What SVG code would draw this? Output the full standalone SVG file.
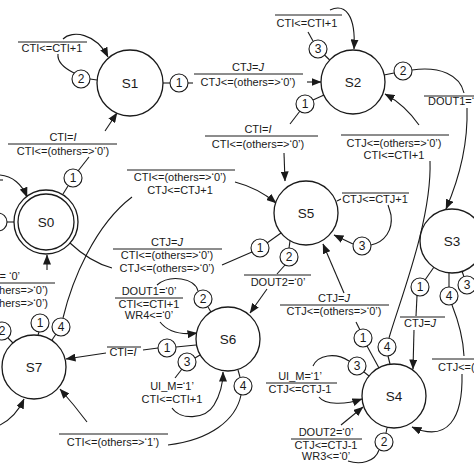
<svg xmlns="http://www.w3.org/2000/svg" width="474" height="474" viewBox="0 0 474 474">
<defs>
<marker id="arr" viewBox="0 0 10 8" refX="9.5" refY="4" markerWidth="10" markerHeight="8" orient="auto" markerUnits="userSpaceOnUse"><path d="M0,0L10,4L0,8z" fill="#1a1a1a"/></marker>
</defs>
<style>
.st{fill:#fff;stroke:#1a1a1a;stroke-width:1.3}
.pt{fill:#fff;stroke:#1a1a1a;stroke-width:1.1}
.c path{fill:none;stroke:#1a1a1a;stroke-width:1.1}
.c path.a{marker-end:url(#arr)}
text{font-family:"Liberation Sans",Arial,sans-serif;fill:#1a1a1a}
.n{font-size:13.5px;text-anchor:middle}
.p{font-size:12px;text-anchor:middle}
.l{font-size:11px;text-anchor:middle}
.e{font-size:11px;text-anchor:end}
.s{font-size:11px;text-anchor:start}
.bar line{stroke:#1a1a1a;stroke-width:1}
.i{font-style:italic}
</style>
<rect width="474" height="474" fill="#fff"/>

<g id="connectors" class="c">
<!-- S1 self loop -->
<path d="M74,73 C64,68 57,62 58,54"/>
<path class="a" d="M63,39 C72,30 96,33 108,57"/>
<!-- S1 -> S2 -->
<path d="M163,83 L170,83"/>
<path d="M188,83 L193,83"/>
<path class="a" d="M307,82 L321,82"/>
<path d="M90,79 L97,80"/>
<!-- S0 -> S1 -->
<path d="M68,186 L63,194"/>
<path d="M78,171 L89,157"/>
<path class="a" d="M105,131 L117,113"/>
<!-- S2 self loop -->
<path d="M324.5,55 L329.7,60"/>
<path d="M313,41 L308,32"/>
<path class="a" d="M330,10 C345,3 356,15 354,49"/>
<!-- S2 -> S3 -->
<path d="M384,75 L394,73"/>
<path d="M412,70 C440,66 460,75 464,93"/>
<path class="a" d="M467,108 C468,140 462,172 446,209"/>
<!-- S2 -> S5 -->
<path d="M313,100 L324,95"/>
<path d="M300,111 L290,124"/>
<path class="a" d="M284,153 L285,181"/>
<!-- S0 left -->
<path class="a" d="M0,175 C12,176 22,184 27,197"/>
<path d="M0,180 L3,180"/>
<path d="M7,222 L14,222"/>
<!-- S7 -> S0 -->
<path class="a" d="M47,270 L47,255"/>
<!-- S0 - S5 c1 -->
<path d="M70,243 Q90,262 112,268"/>
<path d="M222,265 L252,252"/>
<path d="M267,243 L281,233"/>
<!-- S7 c4 -> S5 -->
<path d="M56,334 L52,340"/>
<path d="M63,318 C72,280 95,225 132,197"/>
<path class="a" d="M235,182 Q258,188 276,203"/>
<path d="M39,332 L38,335"/>
<path d="M8,338 L13,343"/>
<!-- S6 c1 -> S7 -->
<path d="M176,347 L196,345"/>
<path d="M158,348 L143,350"/>
<path class="a" d="M106,353 L66,359"/>
<!-- S6 c2 loop -->
<path d="M208,307 L211,312"/>
<path d="M198,291 C195,278 170,274 157,285"/>
<path class="a" d="M160,322 C168,332 182,335 197,333"/>
<!-- S6 c3 loop -->
<path d="M195,358 L200,355"/>
<path d="M182,369 L175,378"/>
<path class="a" d="M172,408 C180,420 205,420 214,405 C220,395 223,385 223,372"/>
<!-- S6 c4 -> S7 -->
<path d="M240,377 L238,370"/>
<path d="M241,395 C236,420 210,440 168,445"/>
<path class="a" d="M87,422 C78,410 68,398 60,389"/>
<path class="a" d="M0,425 C10,420 19,410 24,399"/>
<!-- S5 c2 -> S6 -->
<path d="M290,241 L289,248"/>
<path d="M285,265 L277,274"/>
<path class="a" d="M267,289 L250,313"/>
<!-- S5 loop -->
<path d="M337,201 L341,199"/>
<path d="M371,245 C385,242 393,230 391,215 C390,211 389,208 388,205"/>
<path class="a" d="M353,244 L334,235"/>
<!-- S4 c1 -> S5 -->
<path d="M367,346 L379,368"/>
<path d="M360,330 L356,322"/>
<path class="a" d="M344,293 L323,244"/>
<!-- S4 c4 -> S2 -->
<path d="M388,356 L390,364"/>
<path d="M389,338 C400,300 432,220 430,161"/>
<path class="a" d="M419,125 Q405,105 385,94"/>
<!-- S3 c1 -> S4 -->
<path d="M425,280 L434,267"/>
<path d="M417,296 L416,316"/>
<path class="a" d="M414,330 L413,369"/>
<!-- S3 c4 -> S4 -->
<path d="M449,273 L449,287"/>
<path d="M452,305 C458,320 463,335 464,356"/>
<path class="a" d="M462,374 C463,418 448,443 412,427"/>
<path d="M462,271 L464,277"/>
<!-- S4 c3 loop -->
<path d="M364,372 L369,376"/>
<path d="M349,361 C335,352 318,355 313,366"/>
<path class="a" d="M319,397 C325,405 345,405 362,399"/>
<!-- S4 c2 / DOUT2 -->
<path class="a" d="M341,425 L363,407"/>
<path d="M386,433 L387,428"/>
<path d="M379,450 C375,462 360,465 348,461"/>
</g>

<g id="labels">
<g class="bar">
<line x1="18" y1="42" x2="87" y2="42"/>
<line x1="8" y1="144" x2="117" y2="144"/>
<line x1="194" y1="74" x2="303" y2="74"/>
<line x1="275" y1="15" x2="342" y2="15"/>
<line x1="424" y1="96" x2="474" y2="96"/>
<line x1="205" y1="136" x2="318" y2="136"/>
<line x1="0" y1="283" x2="55" y2="283"/>
<line x1="113" y1="249" x2="222" y2="249"/>
<line x1="127" y1="170" x2="235" y2="170"/>
<line x1="107" y1="347" x2="141" y2="347"/>
<line x1="115" y1="298" x2="183" y2="298"/>
<line x1="59" y1="434" x2="168" y2="434"/>
<line x1="244" y1="275" x2="311" y2="275"/>
<line x1="342" y1="193" x2="409" y2="193"/>
<line x1="280" y1="305" x2="389" y2="305"/>
<line x1="341" y1="135" x2="449" y2="135"/>
<line x1="400" y1="317" x2="445" y2="317"/>
<line x1="432" y1="359" x2="474" y2="359"/>
<line x1="266" y1="383" x2="337" y2="383"/>
<line x1="291" y1="439" x2="362" y2="439"/>
</g>
<text class="l" x="52" y="52">CTI&lt;=CTI+1</text>
<text class="l" x="63" y="141">CTI=<tspan class="i">I</tspan></text>
<text class="l" x="63" y="155">CTI&lt;=(others=&gt;‘0’)</text>
<text class="l" x="248" y="71">CTJ=<tspan class="i">J</tspan></text>
<text class="l" x="248" y="86">CTJ&lt;=(others=&gt;‘0’)</text>
<text class="l" x="307" y="27">CTI&lt;=CTI+1</text>
<text class="s" x="428" y="105">DOUT1=‘0’</text>
<text class="l" x="258" y="133">CTI=<tspan class="i">I</tspan></text>
<text class="l" x="258" y="148">CTI&lt;=(others=&gt;‘0’)</text>
<text class="e" x="20" y="280">= ‘0’</text>
<text class="e" x="48" y="294">CTI&lt;=(others=&gt;‘0’)</text>
<text class="e" x="48" y="307">CTJ&lt;=(others=&gt;‘0’)</text>
<text class="l" x="167" y="246">CTJ=<tspan class="i">J</tspan></text>
<text class="l" x="167" y="259">CTI&lt;=(others=&gt;‘0’)</text>
<text class="l" x="167" y="272">CTJ&lt;=(others=&gt;‘0’)</text>
<text class="l" x="180" y="181">CTI&lt;=(others=&gt;‘0’)</text>
<text class="l" x="180" y="194">CTJ&lt;=CTJ+1</text>
<text class="l" x="123" y="356">CTI=<tspan class="i">I</tspan></text>
<text class="l" x="149" y="295">DOUT1=‘0’</text>
<text class="l" x="149" y="308">CTI&lt;=CTI+1</text>
<text class="l" x="149" y="319">WR4&lt;=‘0’</text>
<text class="l" x="172" y="390">UI_M=‘1’</text>
<text class="l" x="172" y="403">CTI&lt;=CTI+1</text>
<text class="l" x="113" y="446">CTI&lt;=(others=&gt;‘1’)</text>
<text class="l" x="278" y="286">DOUT2=‘0’</text>
<text class="l" x="375" y="203">CTJ&lt;=CTJ+1</text>
<text class="l" x="334" y="302">CTJ=<tspan class="i">J</tspan></text>
<text class="l" x="334" y="315">CTJ&lt;=(others=&gt;‘0’)</text>
<text class="l" x="394" y="147">CTJ&lt;=(others=&gt;‘0’)</text>
<text class="l" x="394" y="159">CTI&lt;=CTI+1</text>
<text class="l" x="420" y="327">CTJ=<tspan class="i">J</tspan></text>
<text class="s" x="438" y="371">CTJ&lt;=(others=&gt;‘0’)</text>
<text class="l" x="300" y="380">UI_M=‘1’</text>
<text class="l" x="300" y="393">CTJ&lt;=CTJ-1</text>
<text class="l" x="326" y="436">DOUT2=‘0’</text>
<text class="l" x="326" y="449">CTJ&lt;=CTJ-1</text>
<text class="l" x="326" y="460">WR3&lt;=‘0’</text>
</g>

<g id="S0">
<circle class="st" cx="46" cy="222" r="32"/>
<circle class="st" cx="46" cy="222" r="28"/>
<text class="n" x="46" y="227">S0</text>
<circle class="pt" cx="73" cy="178" r="9"/><text class="p" x="73" y="182.3">1</text>
<circle class="pt" cx="-2" cy="222" r="9"/>
</g>
<g id="S1">
<circle class="st" cx="130" cy="83" r="33"/>
<text class="n" x="130" y="88">S1</text>
<circle class="pt" cx="81" cy="79" r="9"/><text class="p" x="81" y="83.3">2</text>
<circle class="pt" cx="179" cy="83" r="9"/><text class="p" x="179" y="87.3">1</text>
</g>
<g id="S2">
<circle class="st" cx="353" cy="82" r="32"/>
<text class="n" x="353" y="87">S2</text>
<circle class="pt" cx="318" cy="49" r="9"/><text class="p" x="318" y="53.3">3</text>
<circle class="pt" cx="403" cy="71" r="9"/><text class="p" x="403" y="75.3">2</text>
<circle class="pt" cx="305" cy="104" r="9"/><text class="p" x="305" y="108.3">1</text>
</g>
<g id="S3">
<circle class="st" cx="452" cy="241" r="32"/>
<text class="n" x="452" y="246">S3</text>
<circle class="pt" cx="420" cy="287" r="9"/><text class="p" x="420" y="291.3">1</text>
<circle class="pt" cx="449" cy="296" r="9"/><text class="p" x="449" y="300.3">4</text>
<circle class="pt" cx="467" cy="285" r="9"/><text class="p" x="467" y="289.3">3</text>
</g>
<g id="S4">
<circle class="st" cx="394" cy="396" r="32"/>
<text class="n" x="394" y="401">S4</text>
<circle class="pt" cx="363" cy="338" r="9"/><text class="p" x="363" y="342.3">1</text>
<circle class="pt" cx="387" cy="347" r="9"/><text class="p" x="387" y="351.3">4</text>
<circle class="pt" cx="357" cy="366" r="9"/><text class="p" x="357" y="370.3">3</text>
<circle class="pt" cx="384" cy="442" r="9"/><text class="p" x="384" y="446.3">2</text>
</g>
<g id="S5">
<circle class="st" cx="306" cy="213" r="32"/>
<text class="n" x="306" y="218">S5</text>
<circle class="pt" cx="260" cy="248" r="9"/><text class="p" x="260" y="252.3">1</text>
<circle class="pt" cx="289" cy="257" r="9"/><text class="p" x="289" y="261.3">2</text>
<circle class="pt" cx="362" cy="246" r="9"/><text class="p" x="362" y="250.3">3</text>
</g>
<g id="S6">
<circle class="st" cx="228" cy="339" r="32"/>
<text class="n" x="228" y="344">S6</text>
<circle class="pt" cx="203" cy="299" r="9"/><text class="p" x="203" y="303.3">2</text>
<circle class="pt" cx="167" cy="348" r="9"/><text class="p" x="167" y="352.3">1</text>
<circle class="pt" cx="187" cy="362" r="9"/><text class="p" x="187" y="366.3">3</text>
<circle class="pt" cx="243" cy="386" r="9"/><text class="p" x="243" y="390.3">4</text>
</g>
<g id="S7">
<circle class="st" cx="34" cy="367" r="32"/>
<text class="n" x="34" y="372">S7</text>
<circle class="pt" cx="40" cy="323" r="9"/><text class="p" x="40" y="327.3">1</text>
<circle class="pt" cx="61" cy="327" r="9"/><text class="p" x="61" y="331.3">4</text>
<circle class="pt" cx="2" cy="331" r="9"/><text class="p" x="2" y="335.3">2</text>
</g>
</svg>
